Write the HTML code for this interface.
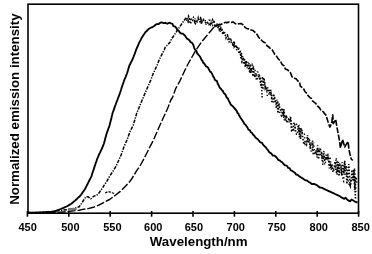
<!DOCTYPE html>
<html><head><meta charset="utf-8"><style>
html,body{margin:0;padding:0;background:#fff;}
svg{display:block;}
text{font-family:"Liberation Sans",Arial,sans-serif;font-weight:bold;fill:#000;}
</style></head><body>
<svg width="372" height="254" viewBox="0 0 372 254">
<rect x="0" y="0" width="372" height="254" fill="#fff"/>
<g fill="none" stroke="#000" stroke-linejoin="round" stroke-linecap="butt">
<polyline points="27.6,212.7 58.3,212.4 69.5,211.3 79.2,210.2 82.7,209.4 88.1,208.6 93.4,207.3 98.8,205.2 104.2,202.2 109.6,199.5 115.0,195.5 120.3,191.4 125.7,186.0 130.0,181.3 133.5,176.0 136.5,170.9 139.9,166.2 143.2,160.2 146.6,153.5 150.0,146.7 153.3,140.5 157.8,130.0 162.3,120.0 166.9,110.0 168.3,106.7 170.8,100.0 172.5,97.5 175.8,88.3 180.0,80.8 184.2,71.7 187.5,65.0 191.7,57.5 195.0,51.7 198.3,46.7 201.5,42.0 204.7,38.2 208.0,34.2 211.4,30.2 214.7,26.1 217.1,24.8" stroke-width="1.4" stroke-dasharray="8 2"/>
<polyline points="216.8,25.2 219.2,24.4 220.8,24.6 223.5,23.4 225.2,22.3 226.7,22.6 229.3,22.1 231.5,22.4 232.9,21.9 235.7,23.8 237.7,24.0 238.8,23.8 241.3,23.6 243.8,25.3 245.0,27.4 247.0,28.7 249.4,28.9 251.2,30.1 253.1,30.6 255.4,32.7 257.0,34.4 258.8,37.5 260.3,38.9 261.8,40.5 263.0,41.7 265.3,42.9 267.1,45.9 268.2,46.4 269.9,48.1 272.1,49.8 272.8,50.9 274.8,54.3 275.8,55.0 277.1,57.1 278.0,58.5 279.6,60.2 280.5,61.0 281.9,64.2 283.1,65.2 284.3,65.9 285.3,69.0 287.3,69.7 290.2,72.4 291.3,74.7 291.8,76.6 293.3,77.7 296.4,79.0 297.5,80.6 299.7,82.6 300.3,86.1 302.4,87.7 303.8,89.1 304.7,91.2 306.2,92.7 307.3,94.7 309.8,97.6 311.3,98.3 312.5,100.9 314.4,102.4 315.6,103.3 318.0,106.4 319.7,108.1 320.9,110.2 323.6,112.1 324.5,113.7 325.8,114.9 326.7,117.5 327.3,119.4 327.9,121.3 328.6,123.3 329.2,125.2 329.8,127.1 331.6,123.6 331.9,121.4 332.1,119.2 332.4,116.9 332.7,114.7 332.9,116.9 333.0,119.2 333.1,121.4 333.3,123.6 334.5,121.5 335.7,119.5 336.1,122.0 336.5,124.5 336.9,127.0 337.3,129.1 337.7,131.2 338.1,133.2 338.5,135.3 338.9,137.4 339.3,139.5 339.6,141.6 339.9,143.8 340.1,145.9 340.4,148.0 340.9,145.9 341.5,143.8 342.1,141.6 342.6,139.5 343.3,142.0 344.0,144.5 344.7,147.0 345.8,145.2 346.9,143.4 348.0,141.6 348.3,143.8 348.6,145.9 348.8,148.1 349.1,150.3 349.6,152.5 350.1,154.7 350.7,156.8 351.2,159.0 352.8,160.3" stroke-width="1.6" stroke-dasharray="6 1.5"/>
<polyline points="27.6,212.7 50.2,212.1 58.3,210.8 67.9,209.5 74.4,208.4 79.2,206.8 82.0,202.8 84.0,199.5 86.0,196.8 88.1,196.8 90.8,198.8 93.7,196.3 96.6,195.3 99.1,192.9 100.8,190.2 102.7,187.8 104.3,185.0 106.9,181.2 109.0,177.3 113.1,171.0 115.8,166.7 118.9,160.0 121.4,154.2 124.0,146.7 127.0,140.0 130.0,131.7 133.3,125.0 136.7,113.3 140.8,103.3 145.0,93.3 148.3,85.8 150.8,80.0 153.3,73.3 156.7,66.2 159.4,59.3 161.8,54.7 164.3,49.8 165.2,47.3 167.7,44.8 170.2,41.9 171.7,38.5 174.1,35.6 175.3,33.3 178.4,28.8 181.1,24.8 183.8,20.8 186.5,17.4" stroke-width="1.5" stroke-dasharray="3.5 1.2 1.3 1.2"/>
<polyline points="27.6,212.7 29.2,212.7 30.9,212.7 32.5,212.7 34.1,212.7 35.7,212.6 37.3,212.6 38.9,212.5 40.5,212.5 42.1,212.4 43.7,212.3 45.3,212.2 47.0,212.0 48.6,211.9 50.2,211.8 51.8,211.6 53.4,211.3 55.0,211.1 56.4,210.6 57.9,210.0 59.3,209.5 60.7,209.0 62.2,208.4 63.6,207.9 65.0,207.2 66.5,206.5 67.9,205.8 69.3,204.9 70.8,204.0 72.2,203.1 73.6,201.8 75.1,200.6 76.5,199.3 77.8,198.0 79.2,196.8 80.5,195.5 81.4,194.3 82.3,193.0 83.1,191.8 84.0,190.5 84.9,189.3 85.7,187.7 86.5,186.1 87.3,184.5 88.1,182.9 88.9,181.3 89.7,179.8 90.5,178.2 91.3,176.6 91.8,175.2 92.2,173.7 92.7,172.2 93.2,170.8 93.7,169.4 94.2,167.9 94.6,166.4 95.1,165.0 95.7,163.1 96.4,161.3 97.0,159.4 97.6,158.0 98.2,156.6 98.8,155.1 99.4,153.7 100.1,152.3 100.8,150.8 101.5,149.4 102.2,148.0 102.8,146.4 103.4,144.9 104.0,143.3 104.5,141.6 104.9,140.0 105.3,138.3 105.8,136.6 106.2,135.0 106.7,133.3 107.3,131.6 107.9,130.0 108.5,128.3 109.1,126.7 109.7,125.0 110.0,123.5 110.4,122.1 110.8,120.6 111.1,119.2 111.5,117.7 111.8,116.2 112.2,114.8 112.5,113.3 113.0,111.8 113.6,110.4 114.1,108.9 114.6,107.4 115.1,105.9 115.7,104.5 116.2,103.0 116.7,101.6 117.3,100.1 117.8,98.7 118.4,97.3 118.9,95.9 119.5,94.4 120.0,93.0 120.5,91.5 121.0,90.0 121.4,88.5 121.9,87.0 122.4,85.5 123.0,83.7 123.7,81.8 124.3,80.0 125.0,78.4 125.7,76.8 126.3,75.1 127.0,73.5 127.5,71.9 128.0,70.3 128.4,68.7 128.9,67.1 129.4,65.5 130.2,64.0 130.9,62.5 131.7,61.0 132.5,59.5 133.5,57.0 134.1,55.3 134.8,53.6 135.4,51.9 136.0,50.2 136.6,48.7 137.3,47.2 137.9,45.6 138.6,44.1 139.2,42.6 140.0,41.1 140.8,39.7 141.5,38.2 142.3,36.8 143.4,35.2 144.4,33.7 145.5,32.1 146.7,31.0 147.8,29.9 149.0,28.7 150.3,28.0 152.3,27.2 154.2,26.0 156.3,24.2 158.7,24.0 160.3,22.7 161.7,22.3 163.8,23.1 165.4,22.8 167.2,23.8 169.2,22.7 170.9,23.3 172.5,23.8 173.4,26.2 174.9,26.4 176.8,28.7 177.6,30.2 178.9,30.9 179.8,32.4 181.2,33.5 182.8,33.6 183.7,34.6 184.9,35.5 186.2,37.5 187.0,38.7 188.4,39.3 189.9,40.9 190.6,42.2 192.1,42.9 193.2,44.5 194.0,47.3 194.5,48.8 195.7,50.1 196.3,50.7 197.2,53.4 198.1,54.4 199.5,56.0 199.9,56.5 200.9,58.4 201.4,59.7 202.7,61.2 203.0,62.6 203.9,63.1 205.3,65.2 206.1,66.4 207.3,66.8 208.2,67.8 208.8,69.1 210.1,71.7 210.6,71.6 212.0,73.7 212.4,74.6 213.4,76.8 214.1,77.6 214.7,79.6 215.5,80.4 217.0,81.1 217.7,83.8 218.5,84.9 218.9,85.8 219.8,87.8 220.7,88.5 222.1,90.5 223.1,91.3 223.7,93.0 224.7,93.7 225.6,94.8 226.6,97.4 227.9,98.4 228.3,99.5 228.9,100.9 230.2,103.3 230.7,104.6 232.4,105.9 233.7,107.3 234.9,108.6 235.7,109.6 236.9,111.3 237.4,113.0 238.5,113.8 238.8,115.1 239.8,116.6 240.8,118.2 241.8,119.5 242.4,120.6 243.5,122.2 244.2,123.7 245.7,124.9 246.8,126.7 247.5,127.5 248.3,129.5 249.9,130.4 250.8,132.2 251.9,132.8 253.2,134.7 254.3,135.7 255.5,137.5 256.8,138.6 257.6,139.0 259.2,141.0 260.2,142.3 261.8,142.6 262.7,144.1 263.5,145.1 264.7,146.4 265.7,147.3 267.0,149.0 268.3,150.6 269.3,152.3 270.4,152.8 271.8,154.1 273.0,155.7 274.4,155.6 275.8,156.7 277.0,158.1 278.3,160.0 279.7,160.3 281.0,161.7 281.9,162.0 283.3,163.6 284.8,165.3 285.8,165.4 287.3,166.0 288.0,167.8 289.6,168.2 290.8,170.4 291.9,170.7 293.0,171.5 294.9,172.7 296.1,174.6 297.1,174.6 299.0,176.1 300.3,176.9 302.4,178.3 303.5,179.1 305.0,180.1 307.0,180.5 308.9,182.1 310.0,182.5 311.8,184.0 313.9,183.8 315.2,184.4 317.4,185.5 318.6,186.6 320.2,187.6 321.9,187.7 323.5,188.6 325.0,189.3 326.6,190.2 328.3,190.8 330.0,191.6 331.6,192.4 333.3,193.2 335.0,194.0 336.5,194.7 338.0,195.3 339.5,196.0 341.9,197.7 344.3,198.9 345.5,197.7 346.6,198.9 347.8,200.1 350.2,201.3 351.5,199.5 353.7,200.7 355.5,201.9 357.5,202.5" stroke-width="1.85"/>
<polyline points="105.2,193 107,192.1 108.9,191.8 110.8,192.2 112.3,192.8 115.2,193.8" stroke-width="1.2" stroke-dasharray="2.5 1"/>
<polyline points="260.6,77.5 261.2,84 261.8,90 262.2,99" stroke-width="1.5" stroke-dasharray="1.5 1.6"/>
<polyline points="354.3,176 354.8,184 355.2,192 355.6,200" stroke-width="1.6" stroke-dasharray="1.6 1.4"/>
<path d="M69,209.2 L75.6,209.2" stroke="#777" stroke-width="2.2" stroke-linecap="round"/>
</g>
<polyline points="186.5,18.2 187.3,19.0 188.1,20.8 188.6,16.5 189.5,18.2 190.1,23.8 190.9,22.6 191.6,21.1 192.1,21.0 193.1,20.2 194.0,21.3 194.5,22.0 195.3,18.5 195.8,22.8 196.5,21.8 197.5,21.8 198.5,19.4 199.4,19.8 200.4,23.2 200.9,17.7 201.5,24.0 202.2,21.6 202.8,20.8 203.5,19.7 204.3,21.5 205.3,22.4 206.3,23.9 207.4,22.7 207.9,24.2 208.9,24.7 209.7,23.4 210.3,24.4 211.1,20.6 211.6,24.7 212.6,20.0 213.6,22.3 214.1,21.9 215.0,25.8 215.5,24.8 216.0,25.8 216.6,27.2 217.7,26.5 218.7,26.9 219.2,29.1 219.7,27.6 220.4,30.5 220.9,28.0 221.9,30.4 222.9,34.5 223.6,32.9 224.4,34.6 225.2,35.0 226.0,37.9 226.7,35.9 227.6,35.7 228.2,40.5 229.0,39.1 229.5,38.9 230.3,37.7 231.1,42.2 231.6,42.8 232.3,44.0 233.0,45.0 233.9,41.7 234.3,46.6 235.4,44.7 236.1,48.2 236.7,47.1 237.4,47.8 238.2,48.1 238.9,53.6 239.3,52.7 240.2,51.9 240.8,58.0 241.4,52.9 242.1,59.4 242.6,56.3 243.3,62.8 244.0,64.2 244.5,59.5 245.4,66.7 246.1,60.3 246.6,64.4 247.2,68.2 248.1,62.3 248.7,70.3 249.6,71.4 250.2,64.1 250.9,72.7 251.5,67.9 252.2,69.5 252.9,76.3 253.4,65.7 254.4,77.3 255.5,73.0 256.5,80.2 257.1,78.7 258.0,78.8 258.8,75.0 259.4,75.0 259.9,80.0 260.6,83.6 261.0,85.4 261.9,86.8 262.9,87.8 263.7,77.8 264.6,81.0 265.2,88.3 266.0,86.5 267.0,90.8 267.6,87.4 268.6,91.9 269.5,91.7 270.1,94.8 271.0,91.6 272.0,102.6 272.9,102.8 273.4,101.1 274.3,95.3 274.9,99.2 275.7,102.4 276.4,108.2 276.9,99.7 277.4,101.5 277.9,113.2 278.9,103.2 279.6,107.3 280.3,108.7 281.1,112.7 281.8,108.3 282.4,108.1 283.2,116.8 283.9,109.2 284.4,113.7 285.2,120.0 285.9,121.1 286.7,117.2 287.4,118.8 288.3,118.9 289.2,120.5 289.7,122.2 290.6,117.0 291.3,122.6 292.3,130.8 293.0,131.1 293.9,123.6 294.6,122.6 295.6,131.2 296.5,134.1 297.4,134.2 298.2,126.3 299.0,125.8 299.5,137.1 300.0,128.1 300.5,139.7 301.1,128.2 302.0,130.6 303.0,139.5 303.9,144.5 304.7,143.1 305.2,143.2 306.0,143.2 306.5,144.3 307.5,135.2 308.1,143.3 309.1,139.5 309.6,140.2 310.5,148.6 311.1,143.5 311.8,144.0 312.5,140.6 313.3,155.0 314.0,152.2 314.5,151.9 315.4,152.5 316.2,150.2 317.0,157.5 317.6,145.4 318.5,159.2 319.2,152.4 320.1,149.1 320.7,149.8 321.5,152.5 322.1,159.2 323.1,153.7 324.0,156.5 325.0,160.3 325.6,154.7 326.0,159.6 326.7,154.9 327.4,158.2 328.3,155.7 329.3,162.3 330.1,162.6 331.1,169.7 331.9,164.0 332.8,171.6 333.5,169.8 334.5,165.5 335.1,161.5 335.9,170.5 337.0,174.6 337.6,162.1 338.2,162.4 339.0,176.2 340.0,164.8 341.0,166.5 341.7,175.6 342.2,162.4 343.2,166.9 343.8,173.6 344.7,160.9 345.3,171.0 346.1,165.9 346.9,184.1 347.6,174.5 348.1,168.1 348.9,164.2 349.9,185.1 350.4,186.3 351.1,182.3 352.0,169.8 352.9,180.1 353.8,169.4 354.7,190.2 355.5,178.0 356.1,177.0 356.7,184.2" fill="none" stroke="#000" stroke-width="1.6" stroke-dasharray="1.5 1.6"/><polyline points="186.5,19.5 187.7,22.7 188.7,20.0 189.9,17.6 191.0,21.0 192.4,16.9 193.3,16.9 194.7,21.5 195.4,23.7 196.9,21.3 198.1,17.6 198.7,20.4 199.5,17.9 200.3,16.8 201.4,20.0 202.8,20.8 204.0,20.9 205.3,20.7 206.2,25.0 207.7,24.0 209.0,20.2 209.9,20.2 210.6,23.9 211.6,24.6 212.6,25.5 214.0,20.2 214.8,25.9 215.9,27.1 216.9,23.2 218.1,28.6 219.0,26.2 220.0,32.0 221.3,28.8 222.2,29.5 222.9,34.0 223.7,33.5 224.8,32.6 226.1,33.6 227.3,34.7 228.3,36.3 229.2,41.7 230.6,39.7 232.0,41.0 233.0,46.0 234.3,42.6 235.8,44.9 236.7,50.4 237.6,47.5 238.4,46.4 239.5,49.9 240.7,53.5 241.8,61.6 242.9,59.4 244.3,57.4 245.1,66.6 246.5,61.0 247.3,67.6 248.8,63.2 250.3,73.2 251.5,68.8 252.2,64.9 253.7,68.9 255.0,70.3 256.4,76.1 257.3,72.0 258.6,72.1 259.5,79.1 260.9,81.6 261.8,86.5 262.6,76.5 263.5,83.0 264.2,80.6 265.2,87.2 266.0,85.9 267.4,96.2 268.7,94.7 269.8,89.5 270.5,88.9 272.0,99.8 273.5,93.6 274.7,101.6 276.0,101.7 277.6,101.1 278.7,111.4 280.2,113.6 281.4,115.8 282.9,111.7 284.2,120.3 285.6,115.6 287.0,123.2 288.1,121.4 289.1,122.0 290.3,116.7 291.5,130.6 293.0,128.8 294.0,130.2 295.1,127.6 296.5,124.3 297.9,125.0 299.0,132.5 299.9,136.5 301.0,136.5 302.5,133.0 303.1,134.3 304.4,134.2 305.2,145.2 306.5,139.8 307.9,139.6 309.1,139.0 310.2,149.1 311.6,151.8 312.6,148.4 313.6,142.5 314.7,154.3 316.1,153.7 317.6,148.2 318.4,151.7 319.3,148.8 320.3,156.3 321.4,152.4 322.8,164.8 323.9,150.7 324.6,164.8 325.3,162.7 326.4,157.0 327.8,153.2 328.6,161.3 329.2,168.5 330.1,156.7 330.8,166.0 331.9,166.8 333.1,170.9 334.6,169.7 335.4,166.3 336.2,157.9 337.3,172.2 338.1,164.1 339.1,173.1 340.2,172.2 341.5,168.5 342.9,180.2 343.6,181.3 344.9,163.8 346.0,175.7 347.5,170.4 348.6,183.4 350.0,186.0 351.0,179.0 351.9,181.4 353.3,180.0 354.6,168.1 356.0,191.8" fill="none" stroke="#000" stroke-width="1.4" stroke-dasharray="1.3 2.2"/>
<g stroke="#000" stroke-width="1.6" fill="none">
<rect x="28" y="4.2" width="330.5" height="209"/>
<line x1="27.4" y1="211" x2="27.4" y2="216.7"/><line x1="68.8" y1="211" x2="68.8" y2="216.7"/><line x1="110.2" y1="211" x2="110.2" y2="216.7"/><line x1="151.6" y1="211" x2="151.6" y2="216.7"/><line x1="193.0" y1="211" x2="193.0" y2="216.7"/><line x1="234.4" y1="211" x2="234.4" y2="216.7"/><line x1="275.8" y1="211" x2="275.8" y2="216.7"/><line x1="317.2" y1="211" x2="317.2" y2="216.7"/><line x1="358.6" y1="211" x2="358.6" y2="216.7"/>
</g>
<g font-size="11" text-anchor="middle"><text x="27.6" y="230.5">450</text><text x="70.4" y="230.5">500</text><text x="112.4" y="230.5">550</text><text x="153.2" y="230.5">600</text><text x="193.9" y="230.5">650</text><text x="235.8" y="230.5">700</text><text x="276.7" y="230.5">750</text><text x="318.8" y="230.5">800</text><text x="360.6" y="230.5">850</text></g>
<text x="149.8" y="245.6" font-size="13.3">Wavelength/nm</text>
<text transform="translate(18.9,109.1) rotate(-90)" font-size="13.3" text-anchor="middle">Normalized emission intensity</text>
</svg>
</body></html>
